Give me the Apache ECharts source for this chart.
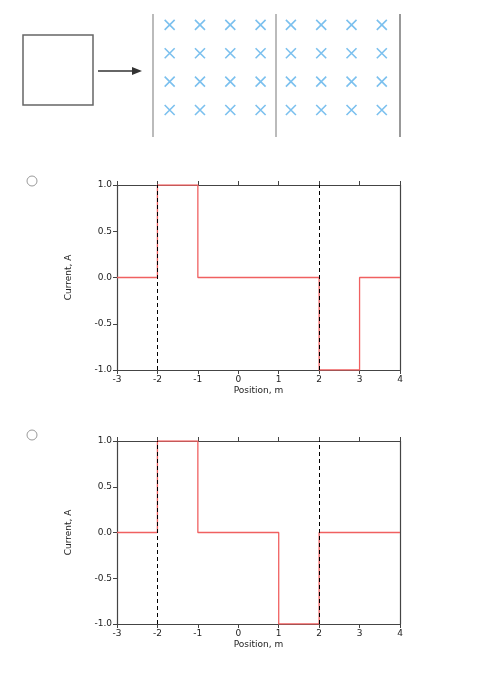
<!DOCTYPE html><html><head><meta charset="utf-8"><script src="https://cdn.jsdelivr.net/npm/echarts@6/dist/echarts.min.js"></script>
<style>html,body{margin:0;background:#fff}#c{width:496px;height:677px}</style></head><body><div id="c"></div><script>
const xTicks=[-3,-2,-1,0,1,2,3,4];
const yTicks=[-1.0,-0.5,0.0,0.5,1.0];
const current1=[[-3,0],[-2,0],[-2,1],[-1,1],[-1,0],[2,0],[2,-1],[3,-1],[3,0],[4,0]];
const current2=[[-3,0],[-2,0],[-2,1],[-1,1],[-1,0],[1,0],[1,-1],[2,-1],[2,0],[4,0]];
const dashedX=[-2,2];
const fieldCols=[1,2,3,4,5,6,7,8];
const fieldRows=[1,2,3,4];
const fieldPts=[];fieldRows.forEach(r=>fieldCols.forEach(c=>fieldPts.push([c,r])));
const ch=echarts.init(document.getElementById('c'));
const tf={fontFamily:'DejaVu Sans',fontSize:9,color:'#222'};
const al={onZero:false,lineStyle:{color:'#444',width:1.2}};
const grids=[{left:117,right:96,top:185,height:185},{left:117,right:96,top:441,height:183},{left:153,width:247,top:15,height:122}];
const xAxes=[],yAxes=[],series=[];
[0,1].forEach(g=>{
 xAxes.push({gridIndex:g,type:'value',min:-3,max:4,interval:1,name:'Position, m',nameLocation:'middle',nameGap:16,nameTextStyle:tf,
  axisLine:al,axisTick:{length:4,lineStyle:{color:'#444'}},axisLabel:{...tf,margin:5},splitLine:{show:false}});
 xAxes.push({gridIndex:g,type:'value',position:'top',min:-3,max:4,interval:1,axisLine:al,axisTick:{length:4,lineStyle:{color:'#444'}},axisLabel:{show:false},splitLine:{show:false}});
 yAxes.push({gridIndex:g,type:'value',min:-1,max:1,interval:0.5,name:'Current, A',nameLocation:'middle',nameGap:44,nameTextStyle:tf,
  axisLine:al,axisTick:{length:4,lineStyle:{color:'#444'}},axisLabel:{...tf,margin:5,formatter:v=>v.toFixed(1)},splitLine:{show:false}});
 yAxes.push({gridIndex:g,type:'value',position:'right',min:-1,max:1,axisLine:al,axisTick:{show:false},axisLabel:{show:false},splitLine:{show:false}});
 series.push({type:'line',xAxisIndex:g*2,yAxisIndex:g*2,data:g?current2:current1,symbol:'none',lineStyle:{color:'#f06060',width:1.3},
  markLine:{silent:true,symbol:'none',label:{show:false},lineStyle:{color:'#000',type:[4,3],width:1},data:dashedX.map(x=>({xAxis:x}))}});
});
xAxes.push({gridIndex:2,type:'value',min:0.45,max:8.6,show:false});
yAxes.push({gridIndex:2,type:'value',min:0.65,max:4.95,inverse:true,show:false});
series.push({type:'scatter',xAxisIndex:4,yAxisIndex:4,data:fieldPts,symbol:'path://M0,0L10,10M10,0L0,10',symbolSize:10,itemStyle:{color:'none',borderColor:'#5ab0ea',borderWidth:1.6}});
ch.setOption({animation:false,grid:grids,xAxis:xAxes,yAxis:yAxes,series,
 graphic:[
  {type:'rect',shape:{x:23,y:35,width:70,height:70},style:{fill:'none',stroke:'#666',lineWidth:1.5}},
  {type:'line',shape:{x1:98,y1:71,x2:134,y2:71},style:{stroke:'#333',lineWidth:1.3}},
  {type:'polygon',shape:{points:[[132,67],[142,71],[132,75]]},style:{fill:'#333'}},
  {type:'line',shape:{x1:153,y1:14,x2:153,y2:137},style:{stroke:'#bbb',lineWidth:2}},
  {type:'line',shape:{x1:276,y1:14,x2:276,y2:137},style:{stroke:'#bbb',lineWidth:2}},
  {type:'line',shape:{x1:400,y1:14,x2:400,y2:137},style:{stroke:'#999',lineWidth:2}},
  {type:'circle',shape:{cx:32,cy:181,r:5},style:{fill:'#fff',stroke:'#999'}},
  {type:'circle',shape:{cx:32,cy:435,r:5},style:{fill:'#fff',stroke:'#999'}}
 ]});
</script></body></html>
